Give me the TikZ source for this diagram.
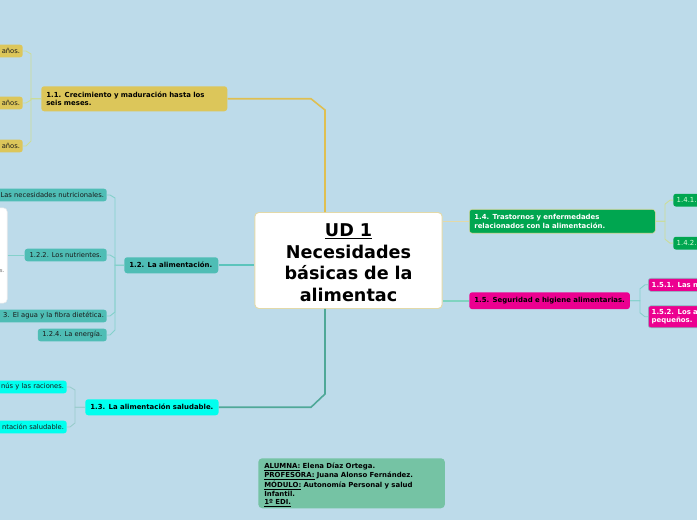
\documentclass[tikz,border=0pt]{standalone}
\usepackage{fontspec}
\setmainfont{DejaVu Sans}
\definecolor{backblue}{HTML}{BDDBEA}
\definecolor{topicyellow}{HTML}{DCC65A}
\definecolor{topicteal}{HTML}{4FBDB5}
\definecolor{topiccyan}{HTML}{00FFEE}
\definecolor{topicgreen}{HTML}{00A650}
\definecolor{topicpink}{HTML}{EC0090}
\definecolor{infogreen}{HTML}{75C3A4}
\definecolor{maintan}{HTML}{E3D9A8}
\definecolor{linkteal}{HTML}{5CC4BC}
\definecolor{linksea}{HTML}{4FA898}
\definecolor{linkmint}{HTML}{7FD4C0}
\tikzset{
  topic/.style={rounded corners=2.2pt, text width=#1, align=left, inner xsep=3.8pt, inner ysep=0pt, anchor=north west,
    font=\fontsize{5.2}{6.5}\selectfont\bfseries},
  subtopic/.style={rounded corners=2pt, inner ysep=0pt, minimum height=9.4pt,
    font=\fontsize{5.05}{6}\selectfont, text=black!90},
  cutleft/.style={subtopic, anchor=east, text width=120pt, align=right, inner xsep=2.1pt},
  cutright/.style={rounded corners=2pt, anchor=north west, text width=120pt, align=left, inner xsep=2.6pt, inner ysep=0pt,
    font=\fontsize{5.2}{6.5}\selectfont\bfseries},
  mainlink/.style={line width=1.2pt},
  bracket/.style={line width=0.65pt}
}
\begin{document}
\begin{tikzpicture}[x=0.75pt, y=-0.75pt]
  \useasboundingbox (0,0) rectangle (697,520);
  \clip (0,0) rectangle (697,520);
  \fill[backblue] (0,0) rectangle (697,520);

  \node [fill=white, draw=maintan, line width=0.7pt, rounded corners=3pt, text width=140.5pt, minimum height=72pt,
    align=center, inner sep=0pt, font=\fontsize{13.2}{16.4}\selectfont\bfseries] (main) at (348.5,260.5)
    {\rule{0pt}{12.9pt}\underline{UD 1}\\Necesidades\\básicas de la\\alimentac};

  % left side
  \node [topic=131.9pt, fill=topicyellow, minimum height=18.75pt] (n11) at (41,86)
    {1.1. Crecimiento y maduración hasta los\\seis meses.};
  \node [cutleft, fill=topicyellow] (n111) at (23,51) {años.};
  \node [cutleft, fill=topicyellow] (n112) at (23,103) {años.};
  \node [cutleft, fill=topicyellow] (n113) at (23,146) {años.};

  \node [topic=62.9pt, fill=topicteal, minimum height=12pt] (n12) at (124,257) {1.2. La alimentación.};
  \node [cutleft, fill=topicteal] (n121) at (107,195) {Las necesidades nutricionales.};
  \node [subtopic, fill=topicteal, anchor=east, minimum width=61.5pt, inner xsep=0pt] (n122) at (107,255) {1.2.2. Los nutrientes.};
  \node [cutleft, fill=topicteal] (n123) at (107,316) {3. El agua y la fibra dietética.};
  \node [subtopic, fill=topicteal, anchor=east, minimum width=51.7pt, inner xsep=0pt] (n124) at (107,335) {1.2.4. La energía.};
  \node [fill=white, draw=black!8, rounded corners=3pt, anchor=east, minimum width=60pt, minimum height=71.5pt] (photo) at (7.5,255.5) {};
  \node [anchor=east, inner sep=0pt, text=black!60, font=\fontsize{4}{5}\selectfont] (photonote) at (4.5,271) {s.};

  \node [topic=92.4pt, fill=topiccyan, minimum height=12pt] (n13) at (85,399) {1.3. La alimentación saludable.};
  \node [cutleft, fill=topiccyan] (n131) at (67,387) {nús y las raciones.};
  \node [cutleft, fill=topiccyan] (n132) at (67,427) {ntación saludable.};

  % right side
  \node [topic=131.9pt, fill=topicgreen, draw=maintan, line width=0.4pt, text=white, minimum height=18pt] (n14) at (469,209)
    {1.4. Trastornos y enfermedades\\relacionados con la alimentación.};
  \node [cutright, fill=topicgreen, text=white!85!green, minimum height=9.6pt, font=\fontsize{5.2}{6.5}\selectfont] (n141) at (673,193.5) {1.4.1.};
  \node [cutright, fill=topicgreen, text=white!85!green, minimum height=9.6pt, font=\fontsize{5.2}{6.5}\selectfont] (n142) at (673,236.5) {1.4.2.};

  \node [topic=112.9pt, fill=topicpink, minimum height=12.7pt] (n15) at (469,292) {1.5. Seguridad e higiene alimentarias.};
  \node [cutright, fill=topicpink, draw=teal!50, line width=0.4pt, text=white, minimum height=9.8pt] (n151) at (648,278) {1.5.1. Las n};
  \node [cutright, fill=topicpink, draw=teal!50, line width=0.4pt, text=white, minimum height=16.5pt] (n152) at (648,305.5) {1.5.2. Los a\\pequeños.};

  \node [topic=131pt, fill=infogreen, rounded corners=3pt, inner xsep=4.5pt, minimum height=37.5pt,
    font=\fontsize{5.2}{6.35}\selectfont\bfseries] (info) at (258,458)
    {\rule{0pt}{7pt}\underline{ALUMNA:} Elena Díaz Ortega.\\\underline{PROFESORA:} Juana Alonso Fernández.\\\underline{MÓDULO:} Autonomía Personal y salud\\Infantil.\\\underline{1º EDI.}};

  % links from the centre
  \coordinate (topelbow) at (325,110);
  \coordinate (lowelbow) at (325,394);
  \draw [mainlink, color=topicyellow!90!orange] (n11.east) -- (n11.east -| 311,0) -- (topelbow) -- (main.north -| topelbow);
  \draw [mainlink, color=linkteal] (n12.east) -- (main.west |- n12.east);
  \draw [mainlink, color=linksea] (n13.east) -- (n13.east -| 311,0) -- (lowelbow) -- (main.south -| lowelbow);
  \draw [bracket, color=maintan] (n14.west) -- (main.east |- n14.west);
  \draw [mainlink, color=linkmint] (n15.west) -- (main.east |- n15.west);

  % brackets
  \begin{scope}[bracket, color=maintan!90!green]
    \draw (n111.east) -- ++(3,0) -- ++(5,3) |- (n11.west);
    \draw (n112.east) -- ++(3,0) -- ++(5,-3) |- (n11.west);
    \draw (n113.east) -- ++(3,0) -- ++(5,-5) |- (n11.west);
    \draw (n141.west) -- ++(-3,0) -- ++(-5,4) |- (n14.east);
    \draw (n142.west) -- ++(-3,0) -- ++(-5,-4) |- (n14.east);
  \end{scope}
  \begin{scope}[bracket, color=topicteal!70!white]
    \draw (n121.east) -- ++(3,0) -- ++(5,3) |- (n12.west);
    \draw (n122.east) -- ++(3,0) -- ++(5,3) |- (n12.west);
    \draw (n123.east) -- ++(3,0) -- ++(5,-4) |- (n12.west);
    \draw (n124.east) -- ++(3,0) -- ++(5,-5) |- (n12.west);
    \draw (photo.east |- n122.west) -- (n122.west);
    \draw (n151.west) -- ++(-3,0) -- ++(-5,4) |- (n15.east);
    \draw (n152.west) -- ++(-3,0) -- ++(-5,-4) |- (n15.east);
  \end{scope}
  \begin{scope}[bracket, color=teal!40!white]
    \draw (n131.east) -- ++(3,0) -- ++(5,3) |- (n13.west);
    \draw (n132.east) -- ++(3,0) -- ++(5,-4) |- (n13.west);
  \end{scope}
\end{tikzpicture}
\end{document}
